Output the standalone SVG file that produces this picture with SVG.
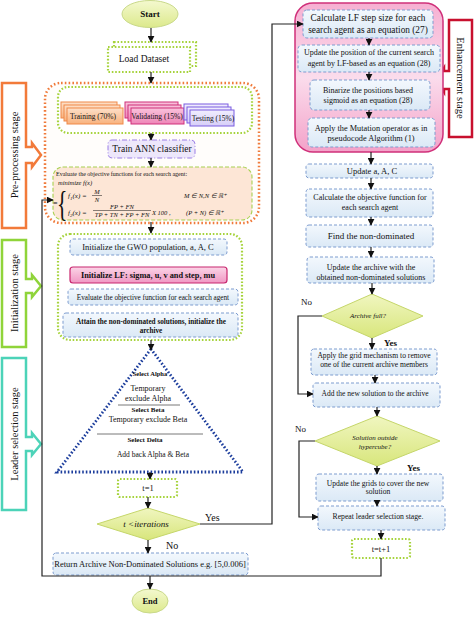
<svg xmlns="http://www.w3.org/2000/svg" width="474" height="618" viewBox="0 0 474 618">
<defs>
<style>
.t{font-family:"Liberation Serif","Times New Roman",serif;fill:#111;text-anchor:middle}
.s{text-anchor:start}
.b{font-weight:bold}
.i{font-style:italic}
.bx{fill:url(#gBlue);stroke:#7d9ccf;stroke-width:1;stroke-dasharray:3 2}
.gd{fill:#fff;stroke:#a6d33c;stroke-width:2.2;stroke-dasharray:1.6 1.8}
.c{fill:none;stroke:#222;stroke-width:1.2}
.a{fill:none;stroke:#222;stroke-width:1.2;marker-end:url(#ah)}
.stage{fill:#fff;stroke-width:2.5;stroke-linejoin:miter}
</style>
<marker id="ah" viewBox="0 0 10 10" refX="9" refY="5" markerWidth="7" markerHeight="7" markerUnits="userSpaceOnUse" orient="auto"><path d="M0,0 L10,5 L0,10 z" fill="#111"/></marker>
<linearGradient id="gBlue" x1="0" y1="0" x2="0" y2="1"><stop offset="0" stop-color="#f3f8fd"/><stop offset="1" stop-color="#dbe9f6"/></linearGradient>
<linearGradient id="gEll" x1="0" y1="0" x2="0" y2="1"><stop offset="0" stop-color="#f4f9cf"/><stop offset="1" stop-color="#dce98c"/></linearGradient>
<linearGradient id="gDia" x1="0" y1="0" x2="0" y2="1"><stop offset="0" stop-color="#f0f6c0"/><stop offset="1" stop-color="#d8e67c"/></linearGradient>
<linearGradient id="gPinkBig" x1="0" y1="0" x2="0" y2="1"><stop offset="0" stop-color="#f6b0d2"/><stop offset="0.5" stop-color="#fbdcec"/><stop offset="1" stop-color="#f3a2c9"/></linearGradient>
<linearGradient id="gLF" x1="0" y1="0" x2="0" y2="1"><stop offset="0" stop-color="#fbd5e7"/><stop offset="1" stop-color="#f097c3"/></linearGradient>
<linearGradient id="gTr" x1="0" y1="0" x2="0" y2="1"><stop offset="0" stop-color="#fde0c9"/><stop offset="1" stop-color="#f8b27e"/></linearGradient>
<linearGradient id="gVa" x1="0" y1="0" x2="0" y2="1"><stop offset="0" stop-color="#f9c3dc"/><stop offset="1" stop-color="#ee86b8"/></linearGradient>
<linearGradient id="gTe" x1="0" y1="0" x2="0" y2="1"><stop offset="0" stop-color="#f1eefe"/><stop offset="1" stop-color="#d6cef8"/></linearGradient>
</defs>

<!-- stage labels -->
<g id="stage-pre">
<path class="stage" stroke="#f27a3a" d="M2,83 H26 V147 H32 V143 L41,155 L32,167 V163 H26 V228 H2 Z"/>
<text class="t" font-size="10.5" transform="translate(17.5,155) rotate(-90)">Pre-processing stage</text>
</g>
<g id="stage-init">
<path class="stage" stroke="#8fd43a" d="M2,240 H26 V279 H32 V275 L41,286 L32,297 V293 H26 V347 H2 Z"/>
<text class="t" font-size="10.5" transform="translate(17.5,293) rotate(-90)">Initialization stage</text>
</g>
<g id="stage-leader">
<path class="stage" stroke="#4cd3b8" d="M2,358 H26 V437 H32 V433 L41,444 L32,455 V451 H26 V510 H2 Z"/>
<text class="t" font-size="10.5" transform="translate(17.5,434) rotate(-90)">Leader selection stage</text>
</g>
<g id="stage-enh">
<path class="stage" stroke="#c8102e" stroke-width="2" d="M449,20 H472 V137 H449 V89 H444 V92 L437,80 L444,68 V71 H449 Z"/>
<text class="t" font-size="10.5" transform="translate(457,78) rotate(90)">Enhancement stage</text>
</g>

<!-- left column -->
<g id="start">
<ellipse cx="150" cy="14" rx="28" ry="13.5" fill="url(#gEll)" stroke="#c9d98a" stroke-width="1"/>
<text class="t b" font-size="9" x="150" y="17">Start</text>
</g>
<g id="load">
<rect class="gd" x="114" y="42" width="82" height="24"/>
<rect class="gd" x="108" y="47" width="82" height="25"/>
<text class="t" font-size="9.5" x="144" y="62">Load Dataset</text>
</g>
<g id="preproc">
<rect x="45" y="83" width="214" height="140" rx="16" fill="#fffdfb" stroke="#f07a3a" stroke-width="2.5" stroke-dasharray="1.6 2.2"/>
<rect class="gd" x="58" y="87" width="194" height="46" rx="10"/>
</g>
<g id="training">
<rect x="61" y="102" width="56" height="16" fill="url(#gTr)" stroke="#f08a4a" stroke-width="1"/>
<rect x="64" y="105" width="56" height="16" fill="url(#gTr)" stroke="#f08a4a" stroke-width="1"/>
<rect x="67" y="108" width="56" height="16" fill="url(#gTr)" stroke="#f08a4a" stroke-width="1"/>
<text class="t" font-size="7.5" x="93" y="119">Training (70%)</text>
</g>
<g id="validating">
<rect x="125" y="102" width="53" height="16" fill="url(#gVa)" stroke="#d0307a" stroke-width="1"/>
<rect x="128" y="105" width="53" height="16" fill="url(#gVa)" stroke="#d0307a" stroke-width="1"/>
<rect x="131" y="108" width="53" height="16" fill="url(#gVa)" stroke="#d0307a" stroke-width="1"/>
<text class="t" font-size="7.5" x="157" y="119">Validating (15%)</text>
</g>
<g id="testing">
<rect x="184" y="104" width="44" height="16" fill="url(#gTe)" stroke="#7a5ce0" stroke-width="1"/>
<rect x="187" y="107" width="44" height="16" fill="url(#gTe)" stroke="#7a5ce0" stroke-width="1"/>
<rect x="190" y="110" width="44" height="16" fill="url(#gTe)" stroke="#7a5ce0" stroke-width="1"/>
<text class="t" font-size="7.5" x="213" y="121">Testing (15%)</text>
</g>
<g id="train-ann">
<rect x="108" y="140" width="87" height="18" rx="4" fill="#ede7fb" stroke="#9b7fe6" stroke-width="1" stroke-dasharray="5 2 1 2"/>
<text class="t" font-size="9.5" x="152" y="152">Train ANN classifier</text>
</g>
<g id="evaluate-obj">
<rect x="53" y="167" width="199" height="53" rx="10" fill="#fde6d6" stroke="#a8d050" stroke-width="1.1" stroke-dasharray="4 2"/>
<text class="t s" font-size="6" x="56" y="176">Evaluate the objective functions for each search agent:</text>
<text class="t s i" font-size="6.5" x="58" y="185">minimize f(x)</text>
<text class="t s" font-size="8" x="53" y="206">=</text>
<text class="t s" font-size="36" x="57" y="216" transform="translate(57,0) scale(0.6,1) translate(-57,0)">{</text>
<text class="t s i" font-size="7" x="68" y="198">f<tspan font-size="5" dy="1.5">1</tspan><tspan dy="-1.5">(x) =</tspan></text>
<text class="t i" font-size="6.5" x="97" y="193.5">M</text>
<line x1="92" y1="195.5" x2="102" y2="195.5" stroke="#111" stroke-width="0.5"/>
<text class="t i" font-size="6.5" x="97" y="202">N</text>
<text class="t s i" font-size="6.5" x="184" y="198">M ∈ N,N ∈ ℝ⁺</text>
<text class="t s i" font-size="7" x="68" y="215">f<tspan font-size="5" dy="1.5">2</tspan><tspan dy="-1.5">(x) =</tspan></text>
<text class="t i" font-size="6.5" x="122" y="208.5">FP + FN</text>
<line x1="93" y1="210.5" x2="151" y2="210.5" stroke="#111" stroke-width="0.5"/>
<text class="t i" font-size="6.5" x="122" y="217">TP + TN + FP + FN</text>
<text class="t s i" font-size="6.5" x="152" y="215">X 100 ,</text>
<text class="t s i" font-size="6.5" x="186" y="215">(P + N) ∈ ℝ⁺</text>
</g>
<g id="init-group">
<rect class="gd" x="58" y="234" width="184" height="106" rx="12"/>
</g>
<g id="init-gwo">
<rect class="bx" x="70" y="239" width="157" height="16" rx="3"/>
<text class="t" font-size="8.5" x="148" y="250">Initialize the GWO population, a, A, C</text>
</g>
<g id="init-lf">
<rect x="70" y="267" width="157" height="16" rx="3" fill="url(#gLF)" stroke="#c8266e" stroke-width="1.2"/>
<text class="t b" font-size="8.3" x="148" y="278">Initialize LF: sigma, u, v and step, mu</text>
</g>
<g id="eval-agent">
<rect class="bx" x="68" y="289" width="170" height="16" rx="3"/>
<text class="t" font-size="7.2" x="153" y="300">Evaluate the objective function for each search agent</text>
</g>
<g id="attain">
<rect class="bx" x="63" y="313" width="175" height="24" rx="3"/>
<text class="t b" font-size="7.2" x="151" y="324">Attain the non-dominated solutions, initialize the</text>
<text class="t b" font-size="7.2" x="151" y="333">archive</text>
</g>
<g id="leader-triangle">
<polygon points="151,349 57,472 243,472" fill="#fff" stroke="#1c3d9c" stroke-width="2.8" stroke-dasharray="1.6 2"/>
<text class="t b" font-size="6.5" x="150" y="376">Select Alpha</text>
<text class="t" font-size="8" x="148" y="391">Temporary</text>
<text class="t" font-size="8" x="148" y="401">exclude Alpha</text>
<line x1="118" y1="405" x2="180" y2="405" stroke="#555" stroke-width="0.8"/>
<text class="t b" font-size="7" x="148" y="412">Select Beta</text>
<text class="t" font-size="8" x="148" y="422">Temporary exclude Beta</text>
<line x1="97" y1="434" x2="203" y2="434" stroke="#555" stroke-width="0.8"/>
<text class="t b" font-size="7" x="145" y="442">Select Delta</text>
<text class="t" font-size="7.5" x="153" y="457">Add back Alpha &amp; Beta</text>
</g>
<g id="t1">
<rect class="gd" x="118" y="479" width="59" height="18" rx="2"/>
<text class="t" font-size="8.5" x="148" y="491">t=1</text>
</g>
<g id="cond-iter">
<polygon points="148,508 200,524 148,540 97,524" fill="url(#gDia)" stroke="#c5d66a" stroke-width="1"/>
<text class="t i" font-size="9" x="146" y="527">t &lt;iterations</text>
</g>
<g id="return">
<rect class="bx" x="53" y="553" width="195" height="22" rx="3"/>
<text class="t" font-size="8.5" x="150" y="567">Return Archive Non-Dominated Solutions e.g. [5,0.006]</text>
</g>
<g id="end">
<ellipse cx="150" cy="601" rx="18" ry="12" fill="url(#gEll)" stroke="#c9d98a" stroke-width="1"/>
<text class="t b" font-size="8.5" x="150" y="604">End</text>
</g>

<!-- right column -->
<g id="enhancement">
<rect x="295" y="3" width="148" height="149" rx="18" fill="url(#gPinkBig)" stroke="#d0307a" stroke-width="1.5"/>
</g>
<g id="lf-step">
<rect class="bx" x="303" y="10" width="130" height="28" rx="4"/>
<text class="t" font-size="9.3" x="368" y="21">Calculate LF step size for each</text>
<text class="t" font-size="9.3" x="368" y="33">search agent as an equation (27)</text>
</g>
<g id="lf-update">
<rect class="bx" x="298" y="45" width="142" height="27" rx="4"/>
<text class="t" font-size="8" x="369" y="55">Update the position of the current search</text>
<text class="t" font-size="8" x="369" y="66">agent by LF-based as an equation (28)</text>
</g>
<g id="binarize">
<rect class="bx" x="310" y="80" width="120" height="30" rx="4"/>
<text class="t" font-size="8" x="368" y="93">Binarize the positions based</text>
<text class="t" font-size="8" x="368" y="103">sigmoid as an equation (28)</text>
</g>
<g id="mutation">
<rect class="bx" x="308" y="118" width="127" height="29" rx="4"/>
<text class="t" font-size="8.3" x="371" y="131">Apply the Mutation operator as in</text>
<text class="t" font-size="8.3" x="371" y="141">pseudocode Algorithm (1)</text>
</g>
<g id="update-aac">
<rect class="bx" x="306" y="164" width="127" height="14" rx="3"/>
<text class="t" font-size="8.5" x="372" y="174">Update a, A, C</text>
</g>
<g id="calc-obj">
<rect class="bx" x="306" y="189" width="127" height="28" rx="3"/>
<text class="t" font-size="8" x="370" y="200">Calculate the objective function for</text>
<text class="t" font-size="8" x="370" y="210">each search agent</text>
</g>
<g id="find-nd">
<rect class="bx" x="306" y="225" width="127" height="22" rx="3"/>
<text class="t" font-size="9" x="371" y="239">Find the non-dominated</text>
</g>
<g id="update-archive">
<rect class="bx" x="307" y="257" width="127" height="26" rx="3"/>
<text class="t" font-size="8" x="371" y="270">Update the archive with the</text>
<text class="t" font-size="8" x="371" y="280">obtained non-dominated solutions</text>
</g>
<g id="cond-full">
<polygon points="372,294 423,316 372,338 322,316" fill="url(#gDia)" stroke="#c5d66a" stroke-width="1"/>
<text class="t i" font-size="7" x="368" y="318">Archive full?</text>
</g>
<g id="grid-remove">
<rect class="bx" x="311" y="349" width="126" height="26" rx="3"/>
<text class="t" font-size="7.6" x="374" y="358">Apply the grid mechanism to remove</text>
<text class="t" font-size="7.6" x="374" y="367">one of the current archive members</text>
</g>
<g id="add-new">
<rect class="bx" x="313" y="383" width="127" height="24" rx="3"/>
<text class="t" font-size="7.5" x="375" y="396">Add the new solution to the archive</text>
</g>
<g id="cond-outside">
<polygon points="377,416 440,441 377,466 315,441" fill="url(#gDia)" stroke="#c5d66a" stroke-width="1"/>
<text class="t i" font-size="7" x="375" y="440">Solution outside</text>
<text class="t i" font-size="7" x="375" y="449">hypercube?</text>
</g>
<g id="update-grids">
<rect class="bx" x="316" y="474" width="127" height="27" rx="3"/>
<text class="t" font-size="7.6" x="378" y="486">Update the grids to cover the new</text>
<text class="t" font-size="7.6" x="378" y="494">solution</text>
</g>
<g id="repeat-leader">
<rect class="bx" x="318" y="506" width="127" height="24" rx="3"/>
<text class="t" font-size="7.7" x="378" y="519">Repeat leader selection stage.</text>
</g>
<g id="t-inc">
<rect class="gd" x="352" y="539" width="58" height="19" rx="2"/>
<text class="t" font-size="8.5" x="381" y="552">t=t+1</text>
</g>

<!-- connectors -->
<g id="connectors">
<line class="a" x1="151" y1="28" x2="151" y2="42"/>
<line class="a" x1="151" y1="72" x2="151" y2="83"/>
<line class="a" x1="151" y1="133" x2="151" y2="140"/>
<line class="a" x1="151" y1="158" x2="151" y2="167"/>
<line class="a" x1="151" y1="222" x2="151" y2="233"/>
<line class="a" x1="151" y1="340" x2="151" y2="350"/>
<line class="a" x1="150" y1="472" x2="150" y2="479"/>
<line class="a" x1="148" y1="497" x2="148" y2="508"/>
<line class="a" x1="148" y1="540" x2="148" y2="553"/>
<line class="a" x1="150" y1="576" x2="150" y2="589"/>
<path class="a" d="M200,524 H272 V24 H303"/>
<path class="a" d="M381,558 V576 H42 V200 H53"/>
<line class="a" x1="369" y1="38" x2="369" y2="45"/>
<line class="a" x1="369" y1="72" x2="369" y2="80"/>
<line class="a" x1="369" y1="110" x2="369" y2="118"/>
<line class="a" x1="371" y1="152" x2="371" y2="164"/>
<line class="a" x1="371" y1="178" x2="371" y2="189"/>
<line class="a" x1="371" y1="217" x2="371" y2="225"/>
<line class="a" x1="371" y1="247" x2="371" y2="257"/>
<line class="a" x1="372" y1="283" x2="372" y2="294"/>
<line class="a" x1="372" y1="338" x2="372" y2="349"/>
<path class="a" d="M322,316 H298 V394 H313"/>
<line class="a" x1="375" y1="375" x2="375" y2="383"/>
<line class="a" x1="377" y1="407" x2="377" y2="416"/>
<line class="a" x1="377" y1="466" x2="377" y2="474"/>
<path class="a" d="M315,441 H299 V517 H318"/>
<line class="a" x1="377" y1="501" x2="377" y2="506"/>
<line class="a" x1="381" y1="530" x2="381" y2="539"/>
<text class="t s" font-size="10" x="205" y="521">Yes</text>
<text class="t s" font-size="10" x="166" y="549">No</text>
<text class="t s" font-size="9" x="301" y="305">No</text>
<text class="t s b" font-size="9" x="384" y="346">Yes</text>
<text class="t s" font-size="9" x="295" y="432">No</text>
<text class="t s b" font-size="9" x="407" y="471">Yes</text>
</g>
</svg>
